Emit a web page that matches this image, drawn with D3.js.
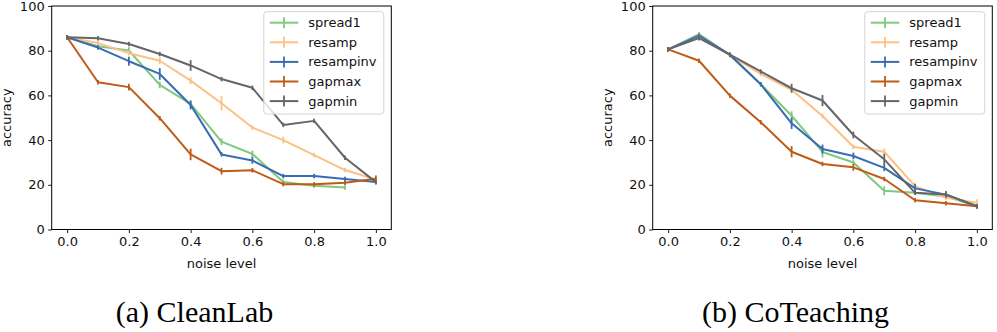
<!DOCTYPE html>
<html>
<head>
<meta charset="utf-8">
<script src="https://cdn.jsdelivr.net/npm/d3@7"></script>
<style>
  html, body { margin: 0; padding: 0; background: #fff; }
</style>
</head>
<body>
<div id="chart"></div>
<script>
const $ = id => document.getElementById(id)

// noise levels on the x axis
const noise = [0.0, 0.1, 0.2, 0.3, 0.4, 0.5, 0.6, 0.7, 0.8, 0.9, 1.0]
const seriesNames = ["spread1", "resamp", "resampinv", "gapmax", "gapmin"]
const seriesColors = ["#7fc97f", "#fdc086", "#386cb0", "#bf5b17", "#666666"]
const xTicks = [0.0, 0.2, 0.4, 0.6, 0.8, 1.0]
const yTicks = [0, 20, 40, 60, 80, 100]

// (a) CleanLab
const cleanSpread1 = [86.0, 82.0, 80.1, 64.7, 56.2, 39.3, 33.8, 21.3, 19.6, 18.8, null]
const cleanResamp = [86.0, 83.4, 78.9, 75.5, 66.6, 56.5, 45.6, 40.0, 33.3, 26.6, 22.4]
const cleanResampinv = [86.0, 81.4, 75.3, 69.6, 55.7, 33.6, 30.9, 23.9, 23.9, 22.6, 21.2]
const cleanGapmax = [86.0, 65.9, 63.7, 49.8, 33.6, 26.1, 26.5, 20.3, 20.2, 20.9, 22.7]
const cleanGapmin = [86.0, 85.6, 83.0, 78.5, 73.4, 67.3, 63.4, 46.8, 48.6, 32.1, 21.2]
const cleanSpread1Err = [1.0, 1.0, 1.5, 1.5, 1.5, 1.5, 1.5, 1.0, 1.0, 1.0, null]
const cleanResampErr = [1.0, 1.0, 1.0, 1.5, 1.5, 3.2, 1.0, 1.5, 1.0, 1.0, 1.0]
const cleanResampinvErr = [1.0, 1.0, 2.0, 2.6, 2.0, 1.0, 1.5, 1.0, 1.0, 1.0, 1.0]
const cleanGapmaxErr = [1.0, 1.0, 1.5, 1.0, 2.6, 1.5, 1.0, 1.0, 1.0, 1.0, 1.5]
const cleanGapminErr = [1.0, 1.0, 1.0, 1.0, 2.4, 1.0, 1.0, 1.0, 1.0, 1.0, 1.0]

// (b) CoTeaching
const coSpread1 = [80.6, 87.4, 78.0, 65.0, 50.9, 34.7, 30.0, 17.3, 16.4, 14.8, 10.4]
const coResamp = [80.6, 86.8, 78.0, 69.6, 62.5, 50.8, 37.0, 34.8, 19.4, 14.2, 12.0]
const coResampinv = [80.6, 86.7, 78.2, 65.0, 47.5, 36.0, 32.9, 27.6, 18.4, 15.6, 10.4]
const coGapmax = [80.6, 75.5, 59.9, 48.0, 34.8, 29.3, 27.8, 22.6, 13.1, 11.7, 10.4]
const coGapmin = [80.6, 85.6, 78.2, 70.7, 63.2, 57.7, 42.3, 31.4, 16.4, 15.7, 10.4]
const coSpread1Err = [1.0, 1.0, 1.0, 1.0, 2.0, 2.5, 1.0, 2.0, 1.0, 1.0, 1.0]
const coResampErr = [1.0, 1.0, 1.0, 1.0, 1.0, 1.0, 1.0, 1.5, 1.5, 1.0, 1.5]
const coResampinvErr = [1.0, 1.0, 1.0, 1.0, 2.5, 2.0, 1.5, 1.5, 2.0, 1.0, 1.0]
const coGapmaxErr = [1.0, 1.0, 1.0, 1.0, 2.5, 1.0, 1.5, 1.0, 1.0, 1.0, 1.0]
const coGapminErr = [1.0, 1.0, 1.0, 1.0, 2.0, 2.5, 1.5, 2.5, 1.0, 1.5, 1.0]

const panels = [
    {
        caption: "(a) CleanLab",
        left: 51.7,
        values: [cleanSpread1, cleanResamp, cleanResampinv, cleanGapmax, cleanGapmin],
        errors: [cleanSpread1Err, cleanResampErr, cleanResampinvErr, cleanGapmaxErr, cleanGapminErr],
    },
    {
        caption: "(b) CoTeaching",
        left: 652.7,
        values: [coSpread1, coResamp, coResampinv, coGapmax, coGapmin],
        errors: [coSpread1Err, coResampErr, coResampinvErr, coGapmaxErr, coGapminErr],
    },
]

const W = 997, H = 332
const plotW = 339.6
const plotTop = 6, plotBottom = 229.5
const sans = '"DejaVu Sans", sans-serif'

const svg = d3.create('svg')
    .attr('width', W)
    .attr('height', H)
    .attr('viewBox', [0, 0, W, H])
    .attr('font-family', sans)

panels.forEach(p => {
    const x = d3.scaleLinear().domain([-0.05, 1.05]).range([p.left, p.left + plotW])
    const y = d3.scaleLinear().domain([0, 100]).range([plotBottom, plotTop])
    const g = svg.append('g')

    // x axis
    const xa = g.append('g')
        .attr('transform', `translate(0,${plotBottom})`)
        .call(d3.axisBottom(x).tickValues(xTicks).tickFormat(d3.format('.1f')).tickSize(3.5).tickPadding(3.5).tickSizeOuter(0))
    // y axis
    const ya = g.append('g')
        .attr('transform', `translate(${p.left},0)`)
        .call(d3.axisLeft(y).tickValues(yTicks).tickSize(3.5).tickPadding(3.5).tickSizeOuter(0))
    for (const a of [xa, ya]) {
        a.attr('font-family', sans).attr('font-size', 13)
        a.select('.domain').remove()
        a.selectAll('line').attr('stroke', '#000').attr('stroke-width', 0.9)
        a.selectAll('text').attr('fill', '#111')
    }

    // data lines with error bars
    const line = d3.line()
        .defined(d => d[1] != null)
        .x(d => x(d[0]))
        .y(d => y(d[1]))

    p.values.forEach((vals, si) => {
        const pts = noise.map((n, i) => [n, vals[i], p.errors[si][i]])
        const sg = g.append('g')
        sg.append('path')
            .datum(pts)
            .attr('d', line)
            .attr('fill', 'none')
            .attr('stroke', seriesColors[si])
            .attr('stroke-width', 2)
            .attr('stroke-linejoin', 'round')
        sg.selectAll('line')
            .data(pts.filter(d => d[1] != null))
            .join('line')
            .attr('x1', d => x(d[0]))
            .attr('x2', d => x(d[0]))
            .attr('y1', d => y(d[1] - d[2]))
            .attr('y2', d => y(d[1] + d[2]))
            .attr('stroke', seriesColors[si])
            .attr('stroke-width', 1.8)
    })

    // frame
    g.append('rect')
        .attr('x', p.left)
        .attr('y', plotTop)
        .attr('width', plotW)
        .attr('height', plotBottom - plotTop)
        .attr('fill', 'none')
        .attr('stroke', '#000')
        .attr('stroke-width', 1)

    // legend
    const lx = p.left + plotW - 127.5, ly = 11.7
    const lg = g.append('g')
    lg.append('rect')
        .attr('x', lx).attr('y', ly)
        .attr('width', 120).attr('height', 102.3)
        .attr('rx', 3)
        .attr('fill', '#fff').attr('fill-opacity', 0.8)
        .attr('stroke', '#d4d4d4').attr('stroke-width', 1)
    seriesNames.forEach((name, i) => {
        const ry = ly + 11 + i * 19.6
        lg.append('line')
            .attr('x1', lx + 6).attr('x2', lx + 34.5)
            .attr('y1', ry).attr('y2', ry)
            .attr('stroke', seriesColors[i]).attr('stroke-width', 2)
        lg.append('line')
            .attr('x1', lx + 20.2).attr('x2', lx + 20.2)
            .attr('y1', ry - 5.5).attr('y2', ry + 5.5)
            .attr('stroke', seriesColors[i]).attr('stroke-width', 1.8)
        lg.append('text')
            .attr('x', lx + 44.5).attr('y', ry)
            .attr('dy', '0.35em')
            .attr('font-size', 13)
            .attr('fill', '#111')
            .text(name)
    })

    // axis labels
    g.append('text')
        .attr('x', (x(0) + x(1)) / 2)
        .attr('y', 267.5)
        .attr('text-anchor', 'middle')
        .attr('font-size', 13)
        .attr('fill', '#111')
        .text('noise level')
    g.append('text')
        .attr('transform', `translate(${p.left - 45.5},${(plotTop + plotBottom) / 2}) rotate(-90)`)
        .attr('text-anchor', 'middle')
        .attr('dominant-baseline', 'central')
        .attr('font-size', 13)
        .attr('fill', '#111')
        .text('accuracy')

    // caption
    g.append('text')
        .attr('x', (x(0) + x(1)) / 2 - 27)
        .attr('y', 322)
        .attr('text-anchor', 'middle')
        .attr('font-family', '"Liberation Serif", "Times New Roman", serif')
        .attr('font-size', 30)
        .attr('fill', '#000')
        .text(p.caption)
})

$('chart').appendChild(svg.node())
</script>
</body>
</html>
